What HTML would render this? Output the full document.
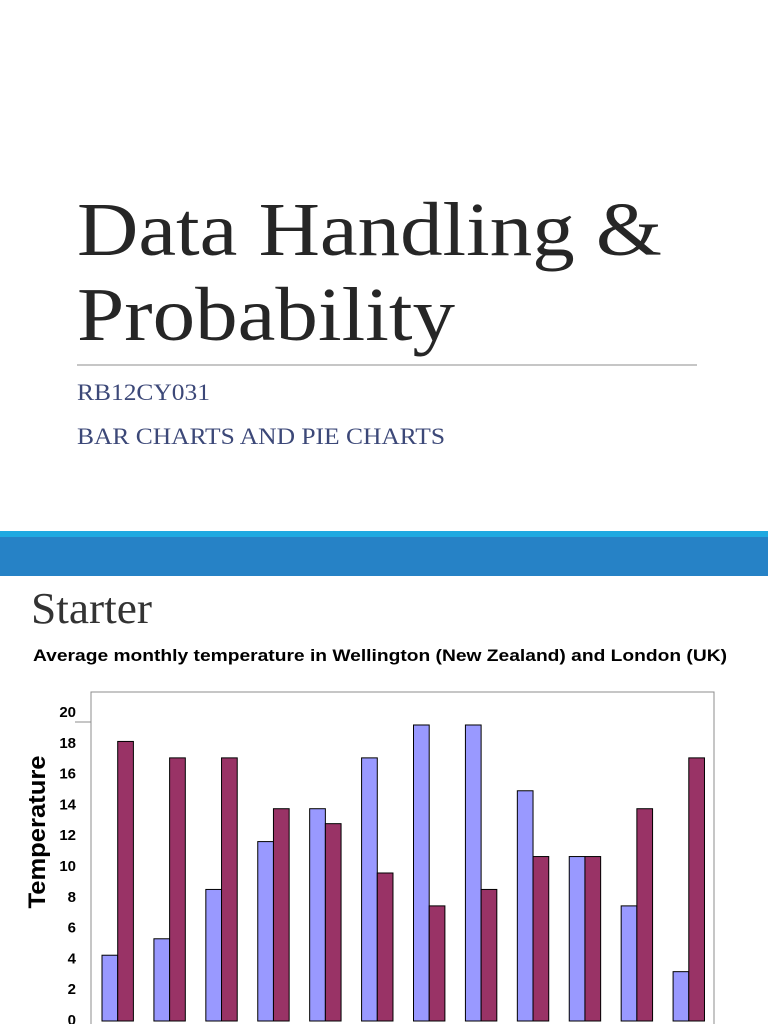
<!DOCTYPE html>
<html><head><meta charset="utf-8"><style>
html,body{margin:0;padding:0;background:#fff;width:768px;height:1024px;overflow:hidden}
svg{display:block}
</style></head><body>
<svg width="768" height="1024" viewBox="0 0 768 1024" xmlns="http://www.w3.org/2000/svg">
<text x="77" y="255" font-family="Liberation Serif, serif" font-size="76" fill="#262626" textLength="585" lengthAdjust="spacingAndGlyphs">Data Handling &amp;</text>
<text x="77" y="340" font-family="Liberation Serif, serif" font-size="76" fill="#262626" textLength="378" lengthAdjust="spacingAndGlyphs">Probability</text>
<line x1="77" y1="365" x2="697" y2="365" stroke="#8c8c8c" stroke-width="1"/>
<text x="77" y="400" font-family="Liberation Serif, serif" font-size="23" fill="#3c4878" textLength="133" lengthAdjust="spacingAndGlyphs">RB12CY031</text>
<text x="77" y="444" font-family="Liberation Serif, serif" font-size="23" fill="#3c4878" textLength="368" lengthAdjust="spacingAndGlyphs">BAR CHARTS AND PIE CHARTS</text>
<rect x="0" y="531" width="768" height="6" fill="#1fa9e1"/>
<rect x="0" y="537" width="768" height="39" fill="#2682c6"/>
<text x="31" y="623" font-family="Liberation Serif, serif" font-size="44" fill="#333" textLength="121" lengthAdjust="spacingAndGlyphs">Starter</text>
<text x="33" y="661" font-family="Liberation Sans, sans-serif" font-size="17" font-weight="bold" fill="#000" textLength="694" lengthAdjust="spacingAndGlyphs">Average monthly temperature in Wellington (New Zealand) and London (UK)</text>
<rect x="91" y="692" width="623" height="340" fill="#fff" stroke="#8c8c8c" stroke-width="1"/>
<line x1="75" y1="722" x2="91" y2="722" stroke="#8c8c8c"/>
<text transform="translate(45,832) rotate(-90)" text-anchor="middle" font-family="Liberation Sans, sans-serif" font-size="24" font-weight="bold" fill="#000" textLength="153" lengthAdjust="spacingAndGlyphs">Temperature</text>
<g id="yticks"></g>
<g id="bars"></g>
</svg>
<script>
const months=["Jan","Feb","Mar","Apr","May","Jun","Jul","Aug","Sep","Oct","Nov","Dec"];
const wellington=[4.4,5.5,8.8,12.0,14.2,17.6,19.8,19.8,15.4,11.0,7.7,3.3];
const london=[18.7,17.6,17.6,14.2,13.2,9.9,7.7,8.8,11.0,11.0,14.2,17.6];
const tickLabels=[0,2,4,6,8,10,12,14,16,18,20];
const NS="http://www.w3.org/2000/svg";
const y0=1021,pxPerUnit=14.95;
function yScale(v){return y0-v*pxPerUnit;}
const plotX=91,plotW=623,groupW=plotW/months.length,barW=15.7,offset=11;
function xScale(i){return plotX+i*groupW+offset;}
function labelY(v){return 1025-v*15.4;}
const yt=document.getElementById('yticks');
tickLabels.forEach(v=>{
 const t=document.createElementNS(NS,'text');
 
 
 t.setAttribute('x',76);t.setAttribute('y',labelY(v));
 t.setAttribute('text-anchor','end');
 t.setAttribute('font-family','Liberation Sans, sans-serif');
 t.setAttribute('font-size','15');t.setAttribute('font-weight','bold');
 t.textContent=v;yt.appendChild(t);
});
const bg=document.getElementById('bars');
months.forEach((m,i)=>{
 const x=xScale(i);
 const b=document.createElementNS(NS,'rect');
 
 
 b.setAttribute('x',x);b.setAttribute('y',yScale(wellington[i]));
 b.setAttribute('width',barW);b.setAttribute('height',y0-yScale(wellington[i]));
 b.setAttribute('fill','#9999ff');b.setAttribute('stroke','#000');b.setAttribute('stroke-width','1');
 bg.appendChild(b);
 const r=document.createElementNS(NS,'rect');
 
 
 r.setAttribute('x',x+barW);r.setAttribute('y',yScale(london[i]));
 r.setAttribute('width',barW);r.setAttribute('height',y0-yScale(london[i]));
 r.setAttribute('fill','#993366');r.setAttribute('stroke','#000');r.setAttribute('stroke-width','1');
 bg.appendChild(r);
});
</script>
</body></html>
